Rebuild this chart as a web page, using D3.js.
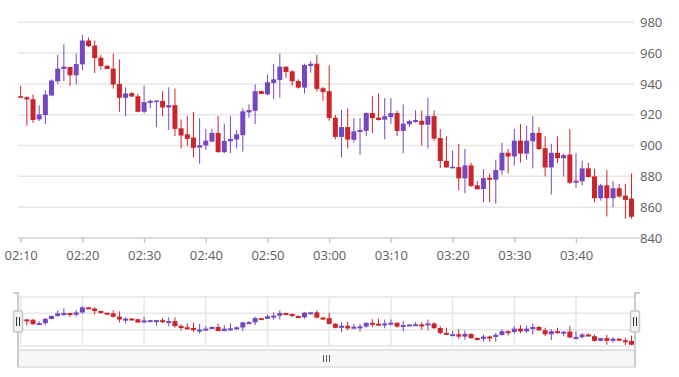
<!DOCTYPE html>
<html>
<head>
<meta charset="utf-8">
<script src="https://cdn.jsdelivr.net/npm/d3@7"></script>
<style>
  body { margin: 0; background: #fff; }
  text { font-family: "Open Sans", sans-serif; }
</style>
</head>
<body>
<div id="chart"></div>
<script>
// one candle per minute, 02:10 .. 03:49
const times = d3.timeMinute.range(new Date(2020, 0, 1, 2, 10), new Date(2020, 0, 1, 3, 50));

const open = [
  932.0, 931.4, 930.1, 917.0, 919.8, 932.5, 941.7, 949.7, 951.0, 945.6,
  952.7, 968.2, 964.9, 957.0, 951.8, 949.9, 940.0, 931.0, 934.0, 932.0,
  921.9, 927.7, 928.4, 929.0, 924.7, 926.2, 911.2, 907.3, 905.2, 898.7,
  900.0, 902.6, 908.2, 895.7, 902.8, 903.9, 906.7, 921.5, 922.6, 935.3,
  933.3, 940.6, 942.6, 951.2, 948.2, 941.9, 937.6, 951.6, 953.1, 937.2,
  935.3, 918.1, 905.6, 912.0, 903.7, 908.8, 909.5, 921.1, 918.1, 916.8,
  918.5, 921.1, 909.5, 913.8, 915.3, 916.1, 913.5, 919.1, 904.9, 890.1,
  885.6, 886.0, 878.7, 887.1, 874.2, 871.8, 879.1, 877.8, 883.9, 895.3,
  892.9, 903.2, 894.8, 902.8, 908.2, 898.3, 885.8, 895.3, 891.8, 894.2,
  875.9, 876.8, 885.2, 880.0, 865.8, 874.2, 865.8, 872.3, 867.5, 865.6
];
const close = [
  931.0, 929.9, 916.6, 920.2, 933.1, 942.2, 949.9, 951.2, 945.6, 952.9,
  968.2, 964.5, 956.8, 951.6, 949.7, 939.6, 931.0, 933.8, 931.8, 921.9,
  928.2, 929.0, 929.2, 924.7, 926.2, 910.8, 906.5, 904.3, 898.5, 900.2,
  903.2, 908.2, 895.7, 903.0, 904.3, 907.3, 922.2, 923.0, 935.3, 933.5,
  941.1, 943.0, 951.2, 947.7, 941.7, 937.6, 952.3, 953.1, 936.8, 934.8,
  917.8, 905.6, 912.0, 903.9, 909.2, 910.1, 921.1, 917.8, 916.6, 919.1,
  921.1, 909.5, 914.2, 915.9, 916.6, 913.5, 919.1, 904.5, 889.9, 885.8,
  886.2, 878.7, 887.1, 873.8, 871.6, 878.9, 877.8, 884.1, 895.3, 892.9,
  903.2, 894.8, 903.2, 908.2, 897.8, 885.8, 895.3, 891.8, 893.8, 875.9,
  877.2, 885.2, 879.6, 865.8, 874.2, 865.8, 872.3, 866.9, 864.7, 853.8
];
const high = [
  938.7, 932.0, 933.1, 926.2, 935.9, 943.0, 958.9, 965.6, 951.0, 959.6,
  971.8, 970.1, 968.2, 958.9, 952.0, 959.6, 955.9, 937.8, 934.8, 933.5,
  938.9, 929.9, 929.2, 935.3, 937.8, 937.0, 917.0, 919.1, 921.9, 917.8,
  910.8, 910.8, 919.1, 914.0, 919.1, 909.9, 924.1, 926.7, 939.6, 935.7,
  946.0, 952.9, 959.6, 951.2, 948.8, 943.0, 953.1, 954.8, 958.9, 938.1,
  952.0, 919.8, 923.0, 924.1, 917.8, 917.8, 921.5, 932.0, 933.8, 930.8,
  930.8, 922.8, 926.7, 916.8, 923.0, 922.8, 931.0, 922.8, 910.8, 906.0,
  896.8, 901.1, 897.8, 888.8, 877.0, 884.7, 881.9, 890.8, 901.7, 897.8,
  910.8, 914.0, 912.9, 919.1, 912.0, 906.0, 901.1, 906.0, 894.8, 910.8,
  895.1, 890.1, 888.8, 884.9, 875.1, 884.1, 877.0, 875.1, 875.1, 881.9
];
const low = [
  931.0, 912.9, 914.8, 915.9, 914.0, 932.0, 940.0, 941.9, 938.7, 939.8,
  948.8, 964.0, 947.1, 949.2, 949.7, 937.0, 921.9, 919.1, 931.8, 921.5,
  920.9, 924.3, 912.0, 919.1, 910.1, 906.2, 898.1, 899.8, 892.3, 888.2,
  897.0, 902.2, 895.5, 895.1, 895.1, 898.1, 896.1, 918.1, 914.0, 933.5,
  932.7, 930.1, 931.0, 943.9, 938.7, 937.0, 933.8, 947.3, 935.1, 929.0,
  916.1, 904.1, 892.3, 898.1, 901.9, 894.0, 906.2, 908.0, 916.1, 904.1,
  914.0, 906.2, 895.1, 912.0, 914.8, 900.0, 898.1, 903.0, 885.4, 885.8,
  885.2, 871.0, 869.0, 873.1, 871.6, 863.2, 863.2, 862.2, 881.1, 881.9,
  887.1, 889.0, 890.8, 885.2, 897.0, 880.0, 868.2, 888.6, 880.0, 875.1,
  872.5, 874.2, 879.1, 863.2, 864.3, 854.0, 860.0, 866.2, 852.5, 852.5
];
const yTicks = [840, 860, 880, 900, 920, 940, 960, 980];
const navTicks = [850, 900, 950, 1000];

const upColor = '#7548c2';
const downColor = '#c9252b';
const gridColor = '#e6e6e6';

const width = 679, height = 377;
const plot = { left: 18, right: 634, top: 22.3, bottom: 238 };
const nav = { top: 297, bottom: 346, barTop: 350, barBottom: 367 };

const data = times.map((t, i) => ({ t, o: open[i], h: high[i], l: low[i], c: close[i] }));

const svg = d3.select('#chart')
  .append('svg')
  .attr('width', width)
  .attr('height', height);

const x = d3.scaleTime()
  .domain([d3.timeSecond.offset(times[0], -26), d3.timeSecond.offset(times[times.length - 1], 24)])
  .range([plot.left, plot.right]);
const y = d3.scaleLinear().domain([840, 980]).range([plot.bottom, plot.top]);

const xTicks = d3.timeMinute.every(10).range(times[0], d3.timeMinute.offset(times[times.length - 1], 1));

// horizontal grid
svg.append('g')
  .selectAll('line')
  .data(yTicks)
  .enter()
  .append('line')
  .attr('x1', plot.left)
  .attr('x2', plot.right)
  .attr('y1', d => y(d))
  .attr('y2', d => y(d))
  .attr('stroke', gridColor)
  .attr('stroke-width', 1.5);

// y labels on the right
const yAxis = d3.axisRight(y).tickValues(yTicks).tickSize(0).tickPadding(6);
svg.append('g')
  .attr('class', 'y axis')
  .attr('transform', 'translate(' + plot.right + ',0)')
  .call(yAxis)
  .call(g => g.select('.domain').remove())
  .call(g => g.selectAll('text').attr('font-size', 13).attr('fill', '#606060').attr('font-family', '"Open Sans", sans-serif'));

// x axis
const xAxis = d3.axisBottom(x).tickValues(xTicks).tickFormat(d3.timeFormat('%H:%M')).tickSize(5).tickPadding(8);
svg.append('g')
  .attr('class', 'x axis')
  .attr('transform', 'translate(0,' + plot.bottom + ')')
  .call(xAxis)
  .call(g => g.select('.domain').attr('stroke', '#d8d8d8').attr('stroke-width', 1.5).attr('d', 'M' + plot.left + ',0H' + 640))
  .call(g => g.selectAll('.tick line').attr('stroke', '#c8c8c8').attr('stroke-width', 1.5))
  .call(g => g.selectAll('text').attr('font-size', 13).attr('fill', '#606060').attr('font-family', '"Open Sans", sans-serif'));

// candles
const drawCandles = (g, yScale, bodyW, minH) => {
  const c = g.selectAll('g.candle')
    .data(data)
    .enter()
    .append('g')
    .classed('candle', true)
    .attr('fill', d => d.c >= d.o ? upColor : downColor)
    .attr('stroke', d => d.c >= d.o ? upColor : downColor);

  c.append('line')
    .attr('x1', d => x(d.t))
    .attr('x2', d => x(d.t))
    .attr('y1', d => yScale(d.h))
    .attr('y2', d => yScale(d.l))
    .attr('stroke-width', 1);

  c.append('rect')
    .attr('x', d => x(d.t) - bodyW / 2)
    .attr('width', bodyW)
    .attr('y', d => yScale(Math.max(d.o, d.c)))
    .attr('height', d => Math.max(minH, Math.abs(yScale(d.o) - yScale(d.c))))
    .attr('stroke', 'none');
};

drawCandles(svg.append('g'), y, 5, 1.5);

// navigator
const yNav = d3.scaleLinear().domain([850, 1000]).range([nav.bottom, nav.top]);
const navG = svg.append('g');

navG.selectAll('line.hgrid')
  .data(navTicks)
  .enter()
  .append('line')
  .attr('class', 'hgrid')
  .attr('x1', plot.left)
  .attr('x2', plot.right)
  .attr('y1', d => yNav(d))
  .attr('y2', d => yNav(d))
  .attr('stroke', gridColor)
  .attr('stroke-width', 1.5);

navG.selectAll('line.vgrid')
  .data(xTicks)
  .enter()
  .append('line')
  .attr('class', 'vgrid')
  .attr('x1', d => x(d))
  .attr('x2', d => x(d))
  .attr('y1', nav.top)
  .attr('y2', nav.bottom)
  .attr('stroke', gridColor)
  .attr('stroke-width', 1.5);

drawCandles(navG.append('g'), yNav, 5, 2);

// scrollbar
svg.append('rect')
  .attr('x', plot.left)
  .attr('y', nav.barTop)
  .attr('width', plot.right + 1 - plot.left)
  .attr('height', nav.barBottom - nav.barTop)
  .attr('fill', '#f7f7f7')
  .attr('stroke', '#dcdcdc')
  .attr('stroke-width', 1.5);

const gripX = (plot.left + plot.right + 1) / 2;
svg.append('g')
  .selectAll('line')
  .data([-3, 0, 3])
  .enter()
  .append('line')
  .attr('x1', d => gripX + d)
  .attr('x2', d => gripX + d)
  .attr('y1', 355)
  .attr('y2', 362)
  .attr('stroke', '#555')
  .attr('stroke-width', 1);

// selection outline
const outline = [
  [[13, 293], [plot.left, 293], [plot.left, nav.barBottom]],
  [[640, 293], [plot.right + 1, 293], [plot.right + 1, nav.barBottom]]
];
svg.append('g')
  .selectAll('path')
  .data(outline)
  .enter()
  .append('path')
  .attr('d', d3.line())
  .attr('fill', 'none')
  .attr('stroke', '#cccccc')
  .attr('stroke-width', 2);

// handles
const handles = [plot.left, plot.right + 1];
const hg = svg.append('g')
  .selectAll('g')
  .data(handles)
  .enter()
  .append('g')
  .attr('transform', d => 'translate(' + d + ',0)');

hg.append('rect')
  .attr('x', -4.5)
  .attr('y', 311)
  .attr('width', 9)
  .attr('height', 21)
  .attr('rx', 1.5)
  .attr('fill', '#f2f2f2')
  .attr('stroke', '#c8c8c8')
  .attr('stroke-width', 1.5);

hg.selectAll('line')
  .data([-1.5, 1.5])
  .enter()
  .append('line')
  .attr('x1', d => d)
  .attr('x2', d => d)
  .attr('y1', 317)
  .attr('y2', 326)
  .attr('stroke', '#333')
  .attr('stroke-width', 1);
</script>
</body>
</html>
